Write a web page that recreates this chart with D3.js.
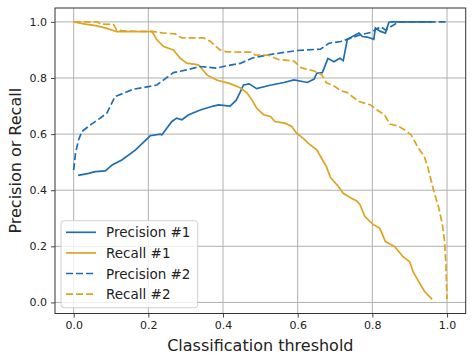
<!DOCTYPE html>
<html>
<head>
<meta charset="utf-8">
<script src="https://cdn.jsdelivr.net/npm/d3@7"></script>
<style>
  body { margin: 0; background: #fff; }
  text { font-family: "DejaVu Sans", sans-serif; fill: #222; }
</style>
</head>
<body>
<div id="chart"></div>
<script>
// thresholds and values
const prec1X = [0.012,0.04,0.058,0.085,0.103,0.129,0.165,0.205,0.232,0.236,0.263,0.276,0.29,0.307,0.339,0.374,0.388,0.419,0.435,0.446,0.455,0.47,0.49,0.526,0.563,0.59,0.626,0.644,0.651,0.666,0.681,0.697,0.713,0.722,0.733,0.764,0.773,0.786,0.804,0.808,0.822,0.835,0.844,0.85,0.96];
const prec1Y = [0.453,0.46,0.466,0.469,0.49,0.508,0.543,0.594,0.60,0.597,0.645,0.657,0.651,0.668,0.686,0.70,0.704,0.70,0.72,0.75,0.775,0.779,0.762,0.774,0.784,0.793,0.784,0.796,0.817,0.819,0.87,0.858,0.87,0.862,0.938,0.96,0.948,0.946,0.938,0.978,0.966,0.96,0.998,1.0,1.0];

const rec1X = [0,0.027,0.063,0.089,0.116,0.21,0.223,0.241,0.267,0.285,0.303,0.334,0.357,0.383,0.419,0.446,0.464,0.477,0.49,0.508,0.528,0.539,0.566,0.584,0.597,0.615,0.628,0.651,0.664,0.677,0.688,0.709,0.722,0.744,0.758,0.767,0.78,0.802,0.82,0.835,0.86,0.882,0.90,0.909,0.927,0.94,0.96];
const rec1Y = [1.0,0.993,0.986,0.977,0.965,0.965,0.936,0.912,0.90,0.871,0.853,0.847,0.811,0.793,0.78,0.765,0.747,0.723,0.693,0.67,0.662,0.645,0.639,0.627,0.603,0.585,0.568,0.544,0.514,0.484,0.445,0.413,0.389,0.371,0.362,0.348,0.306,0.278,0.264,0.217,0.199,0.163,0.145,0.11,0.068,0.039,0.011];

const prec2X = [0,0.005,0.013,0.022,0.045,0.071,0.089,0.111,0.134,0.16,0.2,0.223,0.267,0.303,0.339,0.383,0.401,0.446,0.48,0.519,0.563,0.599,0.661,0.684,0.715,0.768,0.795,0.822,0.835,0.857,0.87,1.0];
const prec2Y = [0.472,0.532,0.579,0.609,0.633,0.657,0.675,0.734,0.746,0.76,0.769,0.775,0.819,0.829,0.841,0.835,0.841,0.852,0.872,0.882,0.891,0.898,0.903,0.924,0.93,0.954,0.962,0.983,0.971,0.989,1.0,1.0];

const rec2X = [0,0.063,0.071,0.107,0.115,0.138,0.21,0.236,0.272,0.29,0.348,0.366,0.392,0.41,0.474,0.486,0.522,0.548,0.59,0.61,0.642,0.664,0.677,0.697,0.715,0.733,0.746,0.764,0.795,0.813,0.833,0.847,0.866,0.887,0.904,0.921,0.939,0.949,0.957,0.966,0.977,0.987,0.993,0.997,1.0];
const rec2Y = [1.0,1.0,0.993,0.99,0.971,0.967,0.966,0.961,0.957,0.943,0.943,0.931,0.9,0.893,0.892,0.882,0.881,0.866,0.86,0.836,0.826,0.812,0.783,0.772,0.755,0.748,0.734,0.716,0.704,0.686,0.668,0.636,0.63,0.615,0.597,0.555,0.52,0.48,0.437,0.389,0.342,0.282,0.223,0.14,0.011];

const xTicks = [0.0, 0.2, 0.4, 0.6, 0.8, 1.0];
const yTicks = [0.0, 0.2, 0.4, 0.6, 0.8, 1.0];

const blue = '#1f6eb0';
const gold = '#dba522';

const series = [
  {name: 'Precision #1', xs: prec1X, ys: prec1Y, color: blue, dash: null},
  {name: 'Recall #1', xs: rec1X, ys: rec1Y, color: gold, dash: null},
  {name: 'Precision #2', xs: prec2X, ys: prec2Y, color: blue, dash: '7,3'},
  {name: 'Recall #2', xs: rec2X, ys: rec2Y, color: gold, dash: '7,3'}
];

//Dimensions
let dimensions = {
  width: 474,
  height: 362,
  margin: {top: 8, bottom: 48.5, left: 55, right: 8.3}
};
dimensions.ctrWidth = dimensions.width - dimensions.margin.left - dimensions.margin.right;
dimensions.ctrHeight = dimensions.height - dimensions.margin.top - dimensions.margin.bottom;

const svg = d3.select('#chart')
  .append('svg')
  .attr('width', dimensions.width)
  .attr('height', dimensions.height);

const ctr = svg.append('g')
  .attr('transform', `translate(${dimensions.margin.left}, ${dimensions.margin.top})`);

const xScale = d3.scaleLinear().domain([-0.05, 1.05]).range([0, dimensions.ctrWidth]);
const yScale = d3.scaleLinear().domain([-0.0395, 1.0495]).range([dimensions.ctrHeight, 0]);

// grid
ctr.append('g')
  .selectAll('line')
  .data(xTicks)
  .join('line')
  .attr('x1', d => xScale(d)).attr('x2', d => xScale(d))
  .attr('y1', 0).attr('y2', dimensions.ctrHeight)
  .attr('stroke', '#b0b0b0').attr('stroke-width', 1);
ctr.append('g')
  .selectAll('line')
  .data(yTicks)
  .join('line')
  .attr('y1', d => yScale(d)).attr('y2', d => yScale(d))
  .attr('x1', 0).attr('x2', dimensions.ctrWidth)
  .attr('stroke', '#b0b0b0').attr('stroke-width', 1);

// lines
const line = d3.line()
  .x(d => xScale(d[0]))
  .y(d => yScale(d[1]));

series.forEach(s => {
  ctr.append('path')
    .datum(s.xs.map((x, i) => [x, s.ys[i]]))
    .attr('d', line)
    .attr('fill', 'none')
    .attr('stroke', s.color)
    .attr('stroke-width', 1.7)
    .attr('stroke-dasharray', s.dash);
});

// axes
const xAxis = d3.axisBottom(xScale).tickValues(xTicks).tickFormat(d3.format('.1f')).tickSizeOuter(0).tickSize(4).tickPadding(4);
const yAxis = d3.axisLeft(yScale).tickValues(yTicks).tickFormat(d3.format('.1f')).tickSizeOuter(0).tickSize(4).tickPadding(4);

const xg = ctr.append('g')
  .attr('transform', `translate(0, ${dimensions.ctrHeight})`)
  .call(xAxis);
const yg = ctr.append('g').call(yAxis);
[xg, yg].forEach(g => {
  g.select('.domain').remove();
  g.selectAll('.tick line').attr('stroke', '#333').attr('stroke-width', 0.9);
  g.selectAll('.tick text').style('font-family', '"DejaVu Sans", sans-serif').style('font-size', '11px').attr('fill', '#222');
});

// frame
ctr.append('rect')
  .attr('width', dimensions.ctrWidth)
  .attr('height', dimensions.ctrHeight)
  .attr('fill', 'none')
  .attr('stroke', '#333')
  .attr('stroke-width', 1);

// axis labels
svg.append('text')
  .attr('x', dimensions.margin.left + dimensions.ctrWidth / 2)
  .attr('y', 351)
  .attr('text-anchor', 'middle')
  .style('font-size', '16px')
  .text('Classification threshold');

svg.append('text')
  .attr('transform', `translate(21, ${dimensions.margin.top + dimensions.ctrHeight / 2}) rotate(-90)`)
  .attr('text-anchor', 'middle')
  .style('font-size', '16px')
  .text('Precision or Recall');

// legend
const legend = svg.append('g').attr('transform', 'translate(61, 220.7)');
legend.append('rect')
  .attr('width', 136.7).attr('height', 87)
  .attr('rx', 3)
  .attr('fill', 'rgba(255,255,255,0.8)')
  .attr('stroke', '#d0d0d0');

const items = legend.selectAll('g.item')
  .data(series)
  .join('g')
  .attr('class', 'item')
  .attr('transform', (d, i) => `translate(0, ${11.6 + i * 20.6})`);
items.append('line')
  .attr('x1', 5).attr('x2', 35)
  .attr('stroke', d => d.color)
  .attr('stroke-width', 1.7)
  .attr('stroke-dasharray', d => d.dash);
items.append('text')
  .attr('x', 45)
  .attr('y', 5)
  .style('font-size', '13.5px')
  .text(d => d.name);
</script>
</body>
</html>
